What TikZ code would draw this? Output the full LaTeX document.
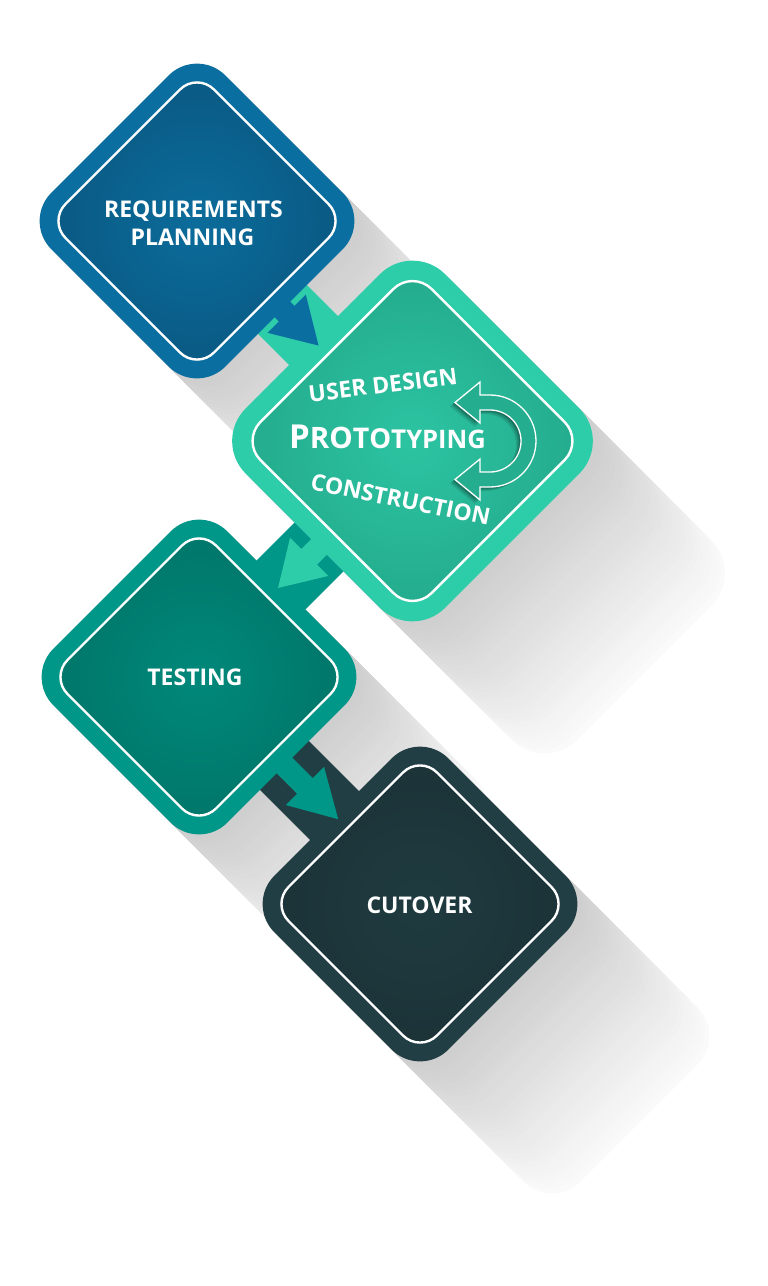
\documentclass[tikz,border=0pt]{standalone}
\usepackage{fontspec}
\setmainfont{Open Sans}
\definecolor{dAband}{HTML}{0B6EA0}
\definecolor{dAin}{HTML}{0B6C9B}
\definecolor{dAout}{HTML}{08466A}
\definecolor{dBband}{HTML}{2DCDAA}
\definecolor{dBin}{HTML}{2CC4A2}
\definecolor{dBout}{HTML}{1B9178}
\definecolor{dCband}{HTML}{009688}
\definecolor{dCin}{HTML}{00887A}
\definecolor{dCout}{HTML}{006458}
\definecolor{dDband}{HTML}{203E44}
\definecolor{dDin}{HTML}{1F3B40}
\definecolor{dDout}{HTML}{182A2E}
\definecolor{loopfill}{HTML}{25AD8F}
\pgfdeclareradialshading{shA}{\pgfpoint{0bp}{0bp}}{color(0bp)=(dAin); color(50bp)=(dAout)}
\pgfdeclareradialshading{shB}{\pgfpoint{0bp}{0bp}}{color(0bp)=(dBin); color(50bp)=(dBout)}
\pgfdeclareradialshading{shC}{\pgfpoint{0bp}{0bp}}{color(0bp)=(dCin); color(50bp)=(dCout)}
\pgfdeclareradialshading{shD}{\pgfpoint{0bp}{0bp}}{color(0bp)=(dDin); color(50bp)=(dDout)}
% #1 centre, #2 half side, #3 corner radius, #4 half side of white line, #5 its radius, #6 band colour, #7 shading
\newcommand\drawdiamond[7]{%
  \begin{scope}[shift={(#1)}, rotate=45]
    \fill[#6, rounded corners=#3] (-#2,-#2) rectangle (#2,#2);
    \shade[shading=#7, rounded corners=#5] (-#4,-#4) rectangle (#4,#4);
    \draw[white, line width=2.4pt, rounded corners=#5] (-#4,-#4) rectangle (#4,#4);
  \end{scope}}
% long fading shadow: #1 centre, #2 half side, #3 corner radius
\newcommand\longshade[3]{%
  \begin{scope}[shift={(#1)}]
    \foreach \k in {30,29,...,1}{%
      \pgfmathsetmacro\g{2+17*(30-\k)/29}
      \fill[black!\g, shift={({4.4*\k},{4.4*\k})}, rotate=45, rounded corners=#3] (-#2,-#2) rectangle (#2,#2);
    }
  \end{scope}}
% arrow: #1 start, #2 rotation, #3 stem start, #4 head base, #5 tip, #6 colour
\newcommand\flowarrow[6]{%
  \fill[#6, shift={(#1)}, rotate=#2] (#3,-11) -- (#4,-11) -- (#4,-27) -- (#5,0) -- (#4,27) -- (#4,11) -- (#3,11) -- cycle;}
\newcommand\fsz[1]{\fontsize{#1}{#1}\selectfont}
\tikzset{
  lbl/.style={text=white, inner sep=0pt, font=\bfseries\fontsize{23}{27}\selectfont},
  band/.style={line width=69pt}
}
\begin{document}
\begin{tikzpicture}[x=1pt,y=-1pt]
\fill[white] (0,0) rectangle (768,1286);
\useasboundingbox (0,0) rectangle (768,1286);
% centres
\coordinate (c1) at (197,221);
\coordinate (c2) at (412.5,441);
\coordinate (c3) at (199,677);
\coordinate (c4) at (420,904);
% connector axes
\coordinate (a12s) at (195.5,222.5);
\coordinate (a12e) at (413.75,440.75);
\coordinate (a23s) at (418.75,447.25);
\coordinate (a23e) at (194,672);
\coordinate (a34s) at (197.5,678.5);
\coordinate (a34e) at (421.5,902.5);
% shadows
\longshade{c1}{123}{40pt}
\longshade{c2}{141}{46pt}
\longshade{c3}{123}{40pt}
\longshade{c4}{123}{40pt}
% connector bands
\draw[band, dBband] (a12s) -- (a12e);
\draw[band, dCband] (a23s) -- (a23e);
\draw[band, dDband] (a34s) -- (a34e);
% diamonds
\drawdiamond{c1}{123}{40pt}{105}{24pt}{dAband}{shA}
\drawdiamond{c2}{141}{46pt}{121}{27pt}{dBband}{shB}
\drawdiamond{c3}{123}{40pt}{105}{24pt}{dCband}{shC}
\drawdiamond{c4}{123}{40pt}{105}{24pt}{dDband}{shD}
% arrows
\flowarrow{a12s}{-45}{112}{129}{174}{dAband}
\flowarrow{a23s}{-135}{128}{155}{199}{dBband}
\flowarrow{a34s}{-45}{112}{152}{199}{dCband}
% labels
\node[lbl, anchor=base] (req1) at (193.5,217) {REQUIREMENTS};
\node[lbl, anchor=base] (req2) at (192.5,245) {PLANNING};
\node[lbl, anchor=base] (test) at (195,685) {TESTING};
\node[lbl, anchor=base] (cut) at (419.5,913) {CUTOVER};
\node[lbl, anchor=base, rotate=7] (user) at (384,393) {USER DESIGN};
\node[lbl, anchor=base, rotate=-11.5] (cons) at (399,507.5) {CONSTRUCTION};
\node[lbl, anchor=base, font=\bfseries] (proto) at (387.5,448) {{\fsz{33}P}{\fsz{29.5}RO}{\fsz{28.5}T}{\fsz{27.5}O}{\fsz{26}T}{\fsz{25.5}Y}{\fsz{25.5}PING}};
% loop arrow
\coordinate (lc) at (490,441);
\foreach \o/\op in {5/0.10,3.5/0.14,2/0.18}{
  \fill[black, opacity=\op, shift={(-\o,{0.8*\o})}] (455,402.5) -- (480,382) -- (480,395) -- (490,395) arc[start angle=-90,end angle=90,radius=46] -- (480,487) -- (480,500) -- (455,479.5) -- (480,459) -- (480,472) -- (490,472) arc[start angle=90,end angle=-90,radius=31] -- (480,410) -- (480,423) -- cycle;
}
\filldraw[fill=loopfill, draw=white, line width=1.3pt, line join=miter] (455,402.5) -- (480,382) -- (480,395) -- (490,395) arc[start angle=-90,end angle=90,radius=46] -- (480,487) -- (480,500) -- (455,479.5) -- (480,459) -- (480,472) -- (490,472) arc[start angle=90,end angle=-90,radius=31] -- (480,410) -- (480,423) -- cycle;
\end{tikzpicture}
\end{document}
